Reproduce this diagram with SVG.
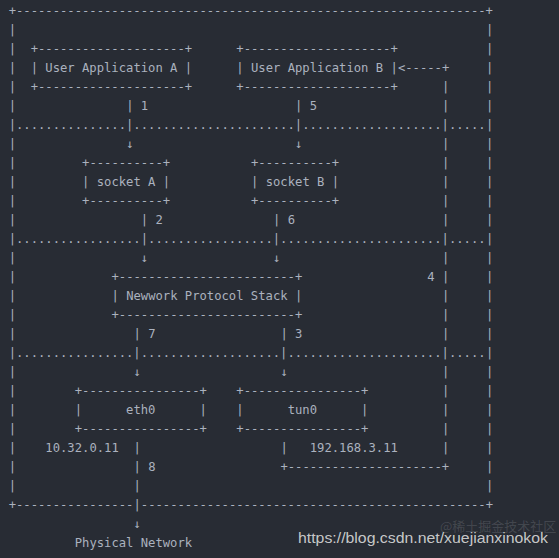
<svg xmlns="http://www.w3.org/2000/svg" width="559" height="558" viewBox="0 0 559 558" xml:space="preserve">
<style>
.t{font-family:"DejaVu Sans Mono","Liberation Mono",monospace;font-size:12.2px;fill:#abb2bf;white-space:pre}
.wm{font-family:"Liberation Sans",Arial,sans-serif;font-size:14.6px;fill:#dcdcdc;fill-opacity:0.9}
.wmc{font-family:"Noto Sans CJK SC",sans-serif;font-size:13px;fill:#ffffff;fill-opacity:0.14}
</style>
<rect x="0" y="0" width="559" height="558" fill="#282c34"/>

<g id="host-frame" class="t">
<text class="t" x="8.63" y="15">+----------------------------------------------------------------+</text>
<text class="t"><tspan x="8.63" y="34">|</tspan><tspan x="8.63" y="53">|</tspan><tspan x="8.63" y="72">|</tspan><tspan x="8.63" y="91">|</tspan><tspan x="8.63" y="110">|</tspan><tspan x="8.63" y="129">|</tspan><tspan x="8.63" y="148">|</tspan><tspan x="8.63" y="167">|</tspan><tspan x="8.63" y="186">|</tspan><tspan x="8.63" y="205">|</tspan><tspan x="8.63" y="224">|</tspan><tspan x="8.63" y="243">|</tspan><tspan x="8.63" y="262">|</tspan><tspan x="8.63" y="281">|</tspan><tspan x="8.63" y="300">|</tspan><tspan x="8.63" y="319">|</tspan><tspan x="8.63" y="338">|</tspan><tspan x="8.63" y="357">|</tspan><tspan x="8.63" y="376">|</tspan><tspan x="8.63" y="395">|</tspan><tspan x="8.63" y="414">|</tspan><tspan x="8.63" y="433">|</tspan><tspan x="8.63" y="452">|</tspan><tspan x="8.63" y="471">|</tspan><tspan x="8.63" y="490">|</tspan></text>
<text class="t"><tspan x="486.05" y="34">|</tspan><tspan x="486.05" y="53">|</tspan><tspan x="486.05" y="72">|</tspan><tspan x="486.05" y="91">|</tspan><tspan x="486.05" y="110">|</tspan><tspan x="486.05" y="129">|</tspan><tspan x="486.05" y="148">|</tspan><tspan x="486.05" y="167">|</tspan><tspan x="486.05" y="186">|</tspan><tspan x="486.05" y="205">|</tspan><tspan x="486.05" y="224">|</tspan><tspan x="486.05" y="243">|</tspan><tspan x="486.05" y="262">|</tspan><tspan x="486.05" y="281">|</tspan><tspan x="486.05" y="300">|</tspan><tspan x="486.05" y="319">|</tspan><tspan x="486.05" y="338">|</tspan><tspan x="486.05" y="357">|</tspan><tspan x="486.05" y="376">|</tspan><tspan x="486.05" y="395">|</tspan><tspan x="486.05" y="414">|</tspan><tspan x="486.05" y="433">|</tspan><tspan x="486.05" y="452">|</tspan><tspan x="486.05" y="471">|</tspan><tspan x="486.05" y="490">|</tspan></text>
<text class="t" x="8.63" y="509">+----------------</text>
<text class="t" x="140.84" y="509">-----------------------------------------------+</text>
</g>

<g id="user-application-a">
<text class="t" x="30.67" y="53">+--------------------+</text>
<text class="t" x="30.67" y="72">| User Application A |</text>
<text class="t" x="30.67" y="91">+--------------------+</text>
</g>

<g id="user-application-b">
<text class="t" x="236.33" y="53">+--------------------+</text>
<text class="t" x="236.33" y="72">| User Application B |</text>
<text class="t" x="236.33" y="91">+--------------------+</text>
</g>

<g id="socket-a">
<text class="t" x="82.08" y="167">+----------+</text>
<text class="t" x="82.08" y="186">| socket A |</text>
<text class="t" x="82.08" y="205">+----------+</text>
</g>

<g id="socket-b">
<text class="t" x="251.02" y="167">+----------+</text>
<text class="t" x="251.02" y="186">| socket B |</text>
<text class="t" x="251.02" y="205">+----------+</text>
</g>

<g id="network-protocol-stack">
<text class="t" x="111.46" y="281">+------------------------+</text>
<text class="t" x="111.46" y="300">| Newwork Protocol Stack |</text>
<text class="t" x="111.46" y="319">+------------------------+</text>
</g>

<g id="eth0">
<text class="t" x="74.74" y="395">+----------------+</text>
<text class="t" x="74.74" y="414">|      eth0      |</text>
<text class="t" x="74.74" y="433">+----------------+</text>
<text class="t" x="45.36" y="452">10.32.0.11</text>
</g>

<g id="tun0">
<text class="t" x="236.33" y="395">+----------------+</text>
<text class="t" x="236.33" y="414">|      tun0      |</text>
<text class="t" x="236.33" y="433">+----------------+</text>
<text class="t" x="309.78" y="452">192.168.3.11</text>
</g>

<g id="physical-network">
<text class="t" x="74.74" y="547">Physical Network</text>
</g>

<g id="layer-separators">
<text class="t" x="15.98" y="129">...............|......................|...................|.....</text>
<text class="t" x="15.98" y="243">.................|.................|......................|.....</text>
<text class="t" x="15.98" y="357">................|...................|.....................|.....</text>
</g>

<g id="connectors">
<text class="t" x="126.15" y="110">| 1</text>
<text class="t" x="126.15" y="148">↓</text>
<text class="t" x="295.09" y="110">| 5</text>
<text class="t" x="295.09" y="148">↓</text>
<text class="t" x="140.84" y="224">| 2</text>
<text class="t" x="140.84" y="262">↓</text>
<text class="t" x="273.05" y="224">| 6</text>
<text class="t" x="273.05" y="262">↓</text>
<text class="t" x="133.50" y="338">| 7</text>
<text class="t" x="133.50" y="376">↓</text>
<text class="t" x="280.40" y="338">| 3</text>
<text class="t" x="280.40" y="376">↓</text>
<text class="t" x="133.50" y="452">|</text>
<text class="t" x="133.50" y="471">| 8</text>
<text class="t" x="133.50" y="490">|</text>
<text class="t" x="133.50" y="509">|</text>
<text class="t" x="133.50" y="528">↓</text>
<text class="t" x="280.40" y="452">|</text>
<text class="t" x="280.40" y="471">+---------------------+</text>
<text class="t"><tspan x="441.99" y="91">|</tspan><tspan x="441.99" y="110">|</tspan><tspan x="441.99" y="148">|</tspan><tspan x="441.99" y="167">|</tspan><tspan x="441.99" y="186">|</tspan><tspan x="441.99" y="205">|</tspan><tspan x="441.99" y="224">|</tspan><tspan x="441.99" y="262">|</tspan><tspan x="441.99" y="281">|</tspan><tspan x="441.99" y="300">|</tspan><tspan x="441.99" y="319">|</tspan><tspan x="441.99" y="338">|</tspan><tspan x="441.99" y="376">|</tspan><tspan x="441.99" y="395">|</tspan><tspan x="441.99" y="414">|</tspan><tspan x="441.99" y="433">|</tspan><tspan x="441.99" y="452">|</tspan></text>
<text class="t" x="397.92" y="72">&lt;-----+</text>
<text class="t" x="427.30" y="281">4</text>
</g>

<g id="watermark">
<text class="wmc" x="440" y="531">@稀土掘金技术社区</text>
<text class="wm" x="298" y="543" textLength="250" lengthAdjust="spacingAndGlyphs">https://blog.csdn.net/xuejianxinokok</text>
</g>
</svg>
